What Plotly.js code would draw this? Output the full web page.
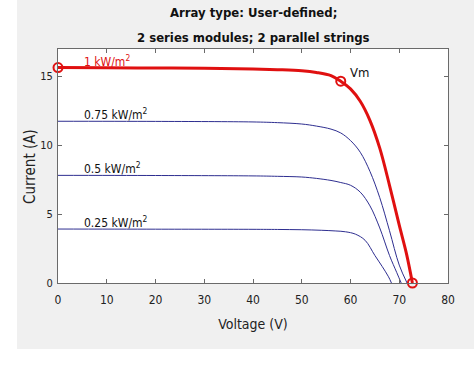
<!DOCTYPE html>
<html><head><meta charset="utf-8">
<script src="https://cdn.plot.ly/plotly-3.0.1.min.js"></script>
<style>
html,body{margin:0;padding:0;background:#fff;width:474px;height:373px;overflow:hidden;}
#chart{position:absolute;left:17px;top:0;width:457px;height:349px;}
</style></head><body>
<div id="chart"></div>
<script>
// 1 kW/m^2 curve
const v1000 = [0, 10, 20, 30, 40, 45, 50, 53, 56, 58, 60, 62, 64, 66, 68, 70, 71.5, 72.7];
const i1000 = [15.65, 15.64, 15.62, 15.6, 15.55, 15.5, 15.42, 15.3, 15.07, 14.66, 14.1, 13.2, 11.8, 9.8, 7.1, 4.2, 2.1, 0];
// 0.75 kW/m^2
const v750 = [0, 20, 40, 45, 50, 53, 56, 58, 60, 62, 64, 66, 68, 70, 71.6];
const i750 = [11.75, 11.74, 11.7, 11.65, 11.55, 11.4, 11.18, 10.9, 10.35, 9.5, 8.1, 6.2, 3.8, 1.3, 0];
// 0.5 kW/m^2
const v500 = [0, 20, 40, 45, 50, 53, 56, 58, 60, 62, 64, 66, 68, 69.5, 70.4];
const i500 = [7.82, 7.81, 7.78, 7.75, 7.7, 7.6, 7.45, 7.3, 7.1, 6.6, 5.6, 4.0, 2.0, 0.75, 0];
// 0.25 kW/m^2
const v250 = [0, 20, 40, 45, 50, 54, 57, 59, 61, 63, 65, 66.5, 67.8, 68.4];
const i250 = [3.92, 3.91, 3.9, 3.89, 3.87, 3.83, 3.78, 3.72, 3.55, 3.1, 2.0, 1.2, 0.45, 0];
// key points on the 1 kW/m^2 curve: Isc, Vm, Voc
const keyV = [0, 58, 72.7];
const keyI = [15.65, 14.66, 0];
const curveLabels = ["1 kW/m<sup>2</sup>", "0.75 kW/m<sup>2</sup>", "0.5 kW/m<sup>2</sup>", "0.25 kW/m<sup>2</sup>"];
const labelI = [15.65, 11.75, 7.82, 3.92];
const titleLines = ["Array type: User-defined;", "2 series modules; 2 parallel strings"];
const xTicks = [0, 10, 20, 30, 40, 50, 60, 70, 80];
const yTicks = [0, 5, 10, 15];

const FONT = "'DejaVu Sans Condensed', 'Liberation Sans Narrow', Arial, sans-serif";
const blue = '#2e2e90';
const red = '#e01010';

const traces = [
  {x: v250, y: i250, mode: 'lines', line: {color: blue, width: 1, shape: 'spline'}},
  {x: v500, y: i500, mode: 'lines', line: {color: blue, width: 1, shape: 'spline'}},
  {x: v750, y: i750, mode: 'lines', line: {color: blue, width: 1, shape: 'spline'}},
  {x: v1000, y: i1000, mode: 'lines', line: {color: red, width: 3, shape: 'spline'}},
  {x: keyV, y: keyI, mode: 'markers', marker: {symbol: 'circle-open', size: 9, color: red, line: {color: red, width: 2}}, cliponaxis: false}
];

const annotations = curveLabels.map((t, k) => ({
  x: 5, y: labelI[k], xref: 'x', yref: 'y', text: t, showarrow: false,
  xanchor: 'left', yanchor: 'bottom', yshift: -3,
  font: {family: FONT, size: 12, color: k === 0 ? red : '#111'}
}));
annotations.push({x: 59.5, y: 14.66, xref: 'x', yref: 'y', text: 'Vm', showarrow: false,
  xanchor: 'left', yanchor: 'bottom', yshift: -1, font: {family: FONT, size: 13, color: '#111'}});
const titleY = [1.154, 1.051];
titleLines.forEach((t, k) => annotations.push({
  x: 0.5, y: titleY[k], xref: 'paper', yref: 'paper', text: '<b>' + t + '</b>', showarrow: false,
  xanchor: 'center', yanchor: 'middle', font: {family: FONT, size: 13, color: '#111'}
}));
annotations.push({x: -0.072, y: 0.5, xref: 'paper', yref: 'paper', text: 'Current (A)', showarrow: false,
  textangle: -90, xanchor: 'center', yanchor: 'middle', font: {family: FONT, size: 15, color: '#222'}});

const axisCommon = {
  showgrid: false, zeroline: false, showline: true, mirror: 'ticks',
  linecolor: '#6a6a6a', linewidth: 1, ticks: 'inside', ticklen: 4, tickcolor: '#6a6a6a',
  tickfont: {family: FONT, size: 12, color: '#222'}
};

const layout = {
  width: 457, height: 349,
  paper_bgcolor: '#f0f0f0', plot_bgcolor: '#ffffff',
  margin: {l: 41, r: 26, t: 49, b: 66},
  showlegend: false,
  xaxis: Object.assign({}, axisCommon, {range: [0, 80], tickvals: xTicks, ticklabelstandoff: 6,
    title: {text: 'Voltage (V)', font: {family: FONT, size: 14, color: '#222'}, standoff: 12}}),
  yaxis: Object.assign({}, axisCommon, {range: [0, 17], tickvals: yTicks, ticklabelstandoff: 2,
    tickfont: {family: FONT, size: 11, color: '#222'}}),
  annotations: annotations
};

Plotly.newPlot('chart', traces, layout, {displayModeBar: false, staticPlot: true});
</script>
</body></html>
